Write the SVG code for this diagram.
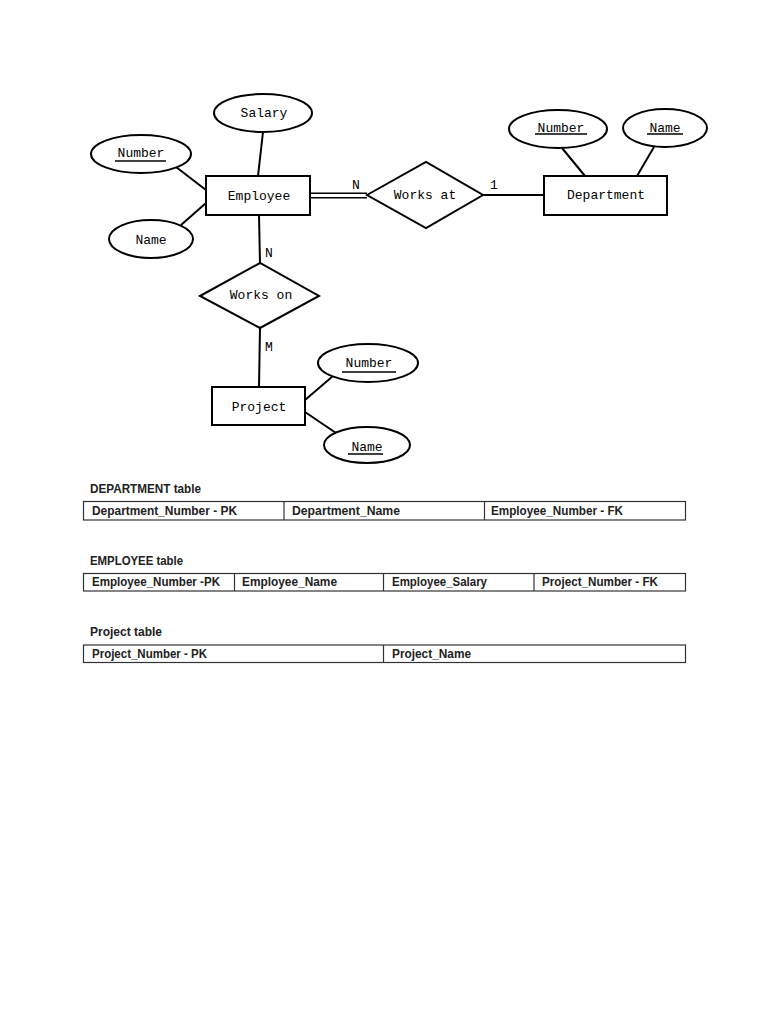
<svg xmlns="http://www.w3.org/2000/svg" width="768" height="1024" viewBox="0 0 768 1024">
<style>
.bg{fill:#fff}
.shape{fill:#fff;stroke:#000;stroke-width:2}
.line{stroke:#000;stroke-width:2;fill:none}
.dbl{stroke:#000;stroke-width:1.5;fill:none}
.ul{stroke:#000;stroke-width:1.5}
.er{font-family:"Liberation Mono","DejaVu Sans Mono",monospace;font-size:13px;fill:#000;text-anchor:middle}
.card{font-family:"Liberation Mono","DejaVu Sans Mono",monospace;font-size:13px;fill:#000;text-anchor:middle}
.cell{fill:#fff;stroke:#333;stroke-width:1.2}
.tt{font-family:"Liberation Sans","Noto Sans",sans-serif;font-size:12.5px;font-weight:bold;fill:#222}
</style>
<rect class="bg" x="0" y="0" width="768" height="1024"/>

<g id="connectors">
  <line class="line" x1="263" y1="132" x2="258" y2="176"/>
  <line class="line" x1="176" y1="167" x2="206" y2="190"/>
  <line class="line" x1="181" y1="225" x2="206" y2="203"/>
  <line class="dbl" x1="311" y1="193.3" x2="367" y2="193.3"/>
  <line class="dbl" x1="311" y1="197.7" x2="367" y2="197.7"/>
  <line class="line" x1="483" y1="195" x2="544" y2="195"/>
  <line class="line" x1="562" y1="148" x2="585" y2="176"/>
  <line class="line" x1="654" y1="147" x2="637" y2="176"/>
  <line class="line" x1="259" y1="215" x2="260" y2="263"/>
  <line class="line" x1="260" y1="328" x2="259" y2="387"/>
  <line class="line" x1="333" y1="376" x2="305" y2="400"/>
  <line class="line" x1="305" y1="412" x2="336" y2="433"/>
  <text class="card" x="356" y="189">N</text>
  <text class="card" x="494" y="189">1</text>
  <text class="card" x="269" y="257">N</text>
  <text class="card" x="269" y="351">M</text>
</g>

<g id="employee">
  <rect class="shape" x="206" y="176" width="104" height="39"/>
  <text class="er" x="259" y="200">Employee</text>
</g>
<g id="emp-salary">
  <ellipse class="shape" cx="263" cy="113" rx="49" ry="19"/>
  <text class="er" x="264" y="117">Salary</text>
</g>
<g id="emp-number">
  <ellipse class="shape" cx="141" cy="154" rx="50" ry="19"/>
  <text class="er" x="141" y="157">Number</text>
  <line class="ul" x1="115" y1="161" x2="166" y2="161"/>
</g>
<g id="emp-name">
  <ellipse class="shape" cx="151" cy="239" rx="42" ry="19"/>
  <text class="er" x="151" y="244">Name</text>
</g>

<g id="works-at">
  <polygon class="shape" points="367,195 426,162 483,195 426,228"/>
  <text class="er" x="425" y="199">Works at</text>
</g>

<g id="department">
  <rect class="shape" x="544" y="176" width="123" height="39"/>
  <text class="er" x="606" y="199">Department</text>
</g>
<g id="dept-number">
  <ellipse class="shape" cx="558" cy="129" rx="49" ry="19"/>
  <text class="er" x="561" y="132">Number</text>
  <line class="ul" x1="535" y1="134" x2="587" y2="134"/>
</g>
<g id="dept-name">
  <ellipse class="shape" cx="665" cy="128" rx="42" ry="19"/>
  <text class="er" x="665" y="132">Name</text>
  <line class="ul" x1="647" y1="134" x2="683" y2="134"/>
</g>

<g id="works-on">
  <polygon class="shape" points="200,296 260,263 319,296 260,328"/>
  <text class="er" x="261" y="299">Works on</text>
</g>

<g id="project">
  <rect class="shape" x="212" y="387" width="93" height="38"/>
  <text class="er" x="259" y="411">Project</text>
</g>
<g id="proj-number">
  <ellipse class="shape" cx="368" cy="363" rx="50" ry="19"/>
  <text class="er" x="369" y="367">Number</text>
  <line class="ul" x1="342" y1="372" x2="396" y2="372"/>
</g>
<g id="proj-name">
  <ellipse class="shape" cx="367" cy="445" rx="43" ry="18"/>
  <text class="er" x="367" y="451">Name</text>
  <line class="ul" x1="348" y1="454" x2="383" y2="454"/>
</g>

<g id="department-table">
  <text class="tt" x="90" y="493" textLength="111" lengthAdjust="spacingAndGlyphs">DEPARTMENT table</text>
  <rect class="cell" x="83.5" y="501.5" width="602" height="18.5"/>
  <line class="cell" x1="284" y1="501.5" x2="284" y2="520"/>
  <line class="cell" x1="484.5" y1="501.5" x2="484.5" y2="520"/>
  <text class="tt" x="92" y="515" textLength="145" lengthAdjust="spacingAndGlyphs">Department_Number - PK</text>
  <text class="tt" x="292" y="515" textLength="108" lengthAdjust="spacingAndGlyphs">Department_Name</text>
  <text class="tt" x="491" y="515" textLength="132" lengthAdjust="spacingAndGlyphs">Employee_Number - FK</text>
</g>

<g id="employee-table">
  <text class="tt" x="90" y="565" textLength="93" lengthAdjust="spacingAndGlyphs">EMPLOYEE table</text>
  <rect class="cell" x="83.5" y="573.5" width="602" height="17.5"/>
  <line class="cell" x1="234.5" y1="573.5" x2="234.5" y2="591"/>
  <line class="cell" x1="383.5" y1="573.5" x2="383.5" y2="591"/>
  <line class="cell" x1="534" y1="573.5" x2="534" y2="591"/>
  <text class="tt" x="92" y="586" textLength="128" lengthAdjust="spacingAndGlyphs">Employee_Number -PK</text>
  <text class="tt" x="242" y="586" textLength="95" lengthAdjust="spacingAndGlyphs">Employee_Name</text>
  <text class="tt" x="392" y="586" textLength="95" lengthAdjust="spacingAndGlyphs">Employee_Salary</text>
  <text class="tt" x="542" y="586" textLength="116" lengthAdjust="spacingAndGlyphs">Project_Number - FK</text>
</g>

<g id="project-table">
  <text class="tt" x="90" y="636" textLength="72" lengthAdjust="spacingAndGlyphs">Project table</text>
  <rect class="cell" x="83.5" y="645" width="602" height="17.5"/>
  <line class="cell" x1="383.5" y1="645" x2="383.5" y2="662.5"/>
  <text class="tt" x="92" y="658" textLength="115" lengthAdjust="spacingAndGlyphs">Project_Number - PK</text>
  <text class="tt" x="392" y="658" textLength="79" lengthAdjust="spacingAndGlyphs">Project_Name</text>
</g>
</svg>
